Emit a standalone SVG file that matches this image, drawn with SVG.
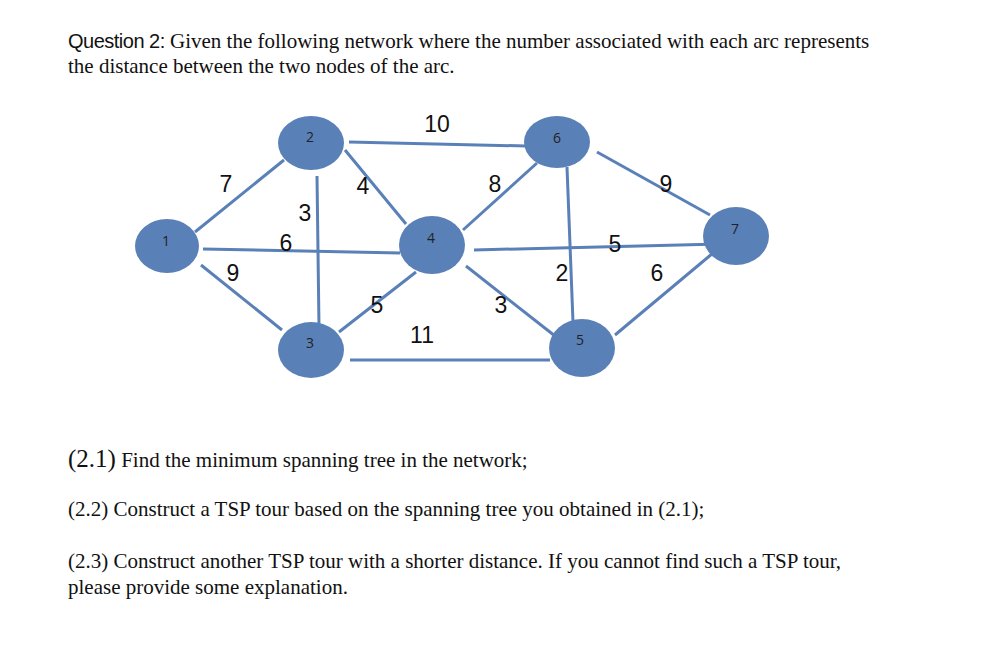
<svg xmlns="http://www.w3.org/2000/svg" width="998" height="660" viewBox="0 0 998 660">
<style>
.n{fill:#5a80b8}
.nt{font-family:"Open Sans","Noto Sans",sans-serif;font-size:14px;fill:#222;text-anchor:middle}
.e line{stroke:#5a80b8;stroke-width:3}
.w{font-family:"Liberation Sans",sans-serif;font-size:23px;fill:#111;text-anchor:middle}
.t{font-family:"Liberation Serif",serif;font-size:21px;fill:#111}
</style>
<rect width="998" height="660" fill="#fff"/>
<text class="t" x="68" y="48"><tspan font-family="Liberation Sans Narrow,Liberation Sans,sans-serif" font-size="20" letter-spacing="-0.5">Question 2:</tspan> Given the following network where the number associated with each arc represents</text>
<text class="t" x="68" y="73">the distance between the two nodes of the arc.</text>
<g class="e" id="connectors">
<line x1="195" y1="232" x2="284" y2="160"/>
<line x1="203" y1="249" x2="400" y2="253"/>
<line x1="201" y1="265" x2="282" y2="330"/>
<line x1="317" y1="176" x2="319" y2="327"/>
<line x1="345" y1="150" x2="406" y2="224"/>
<line x1="349" y1="142" x2="526" y2="146"/>
<line x1="463" y1="230" x2="537" y2="163"/>
<line x1="474" y1="250" x2="720" y2="244"/>
<line x1="466" y1="266" x2="555" y2="336"/>
<line x1="339" y1="332" x2="416" y2="272"/>
<line x1="350" y1="360" x2="550" y2="360"/>
<line x1="567" y1="167" x2="573" y2="322"/>
<line x1="597" y1="152" x2="710" y2="215"/>
<line x1="615" y1="335" x2="713" y2="253"/>
</g>
<g id="weights">
<text class="w" x="437" y="132">10</text>
<text class="w" x="226" y="192">7</text>
<text class="w" x="305" y="221">3</text>
<text class="w" x="363" y="194">4</text>
<text class="w" x="286" y="251">6</text>
<text class="w" x="233" y="281">9</text>
<text class="w" x="377" y="313">5</text>
<text class="w" x="422" y="343">11</text>
<text class="w" x="495" y="192">8</text>
<text class="w" x="501" y="313">3</text>
<text class="w" x="562" y="281">2</text>
<text class="w" x="615" y="252">5</text>
<text class="w" x="657" y="281">6</text>
<text class="w" x="666" y="192">9</text>
</g>
<g id="n1"><ellipse class="n" cx="167" cy="246" rx="32" ry="27"/><text class="nt" x="166" y="246">1</text></g>
<g id="n2"><ellipse class="n" cx="311" cy="143" rx="33" ry="27"/><text class="nt" x="310" y="142">2</text></g>
<g id="n3"><ellipse class="n" cx="311" cy="350" rx="33" ry="28"/><text class="nt" x="310" y="348">3</text></g>
<g id="n4"><ellipse class="n" cx="432" cy="245" rx="33" ry="29"/><text class="nt" x="431" y="243">4</text></g>
<g id="n5"><ellipse class="n" cx="582" cy="348" rx="33" ry="29"/><text class="nt" x="580" y="345">5</text></g>
<g id="n6"><ellipse class="n" cx="557" cy="142" rx="33" ry="26"/><text class="nt" x="557" y="143">6</text></g>
<g id="n7"><ellipse class="n" cx="736" cy="236" rx="33" ry="29"/><text class="nt" x="735" y="234">7</text></g>
<text class="t" x="68" y="467"><tspan font-size="25">(2.1)</tspan> Find the minimum spanning tree in the network;</text>
<text class="t" x="68" y="516">(2.2)  Construct a TSP tour based on the spanning tree you obtained in (2.1);</text>
<text class="t" x="68" y="568">(2.3)  Construct another TSP tour with a shorter distance. If you cannot find such a TSP tour,</text>
<text class="t" x="68" y="594">please provide some explanation.</text>
</svg>
